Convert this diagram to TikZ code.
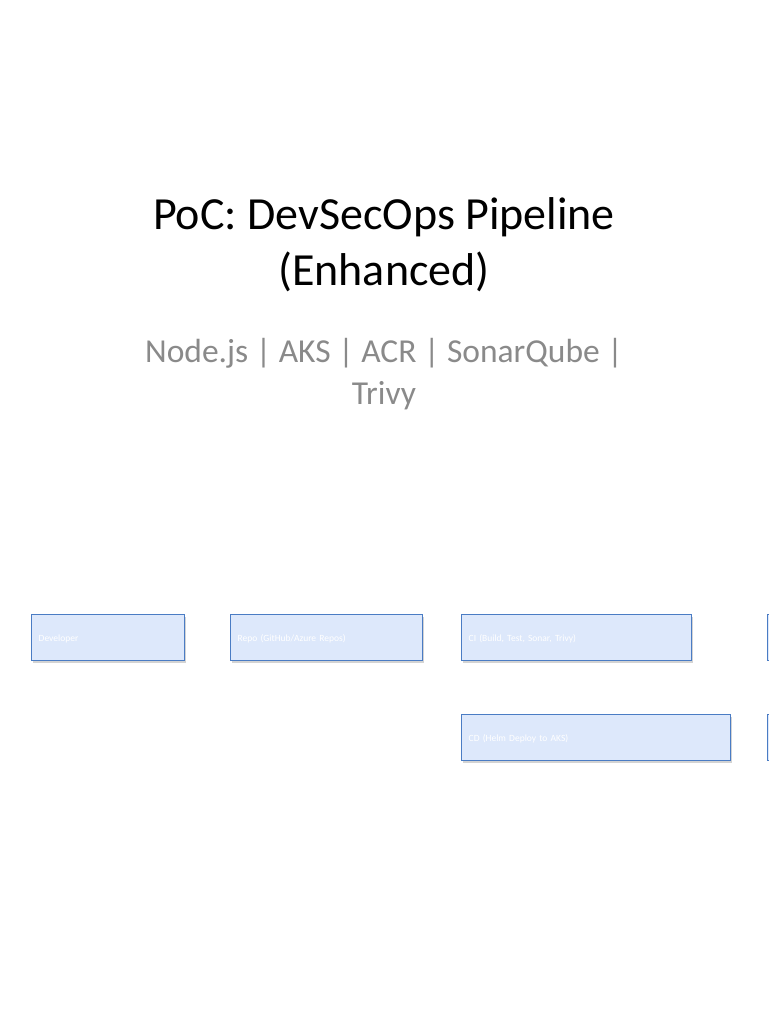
\documentclass[tikz,border=0pt]{standalone}
\usepackage{fontspec}
\setmainfont{Carlito}
\usetikzlibrary{positioning,shadows}
\definecolor{boxfill}{HTML}{DDE8FB}
\definecolor{boxline}{HTML}{4A7CC4}
\definecolor{subgray}{HTML}{8A8A8A}
\tikzset{
  stagebox/.style={draw=boxline, line width=1.4pt, fill=boxfill, anchor=north west,
    minimum height=46pt, text=white, font=\fontsize{9.5}{10}\selectfont,
    align=left, inner xsep=7pt, text depth=0pt,
    drop shadow={shadow xshift=0.8pt, shadow yshift=-1.8pt, opacity=0.35}}
}
\begin{document}
\begin{tikzpicture}[x=1pt,y=-1pt]
  \useasboundingbox (0,0) rectangle (768,1024);
  % title
  \node (title) at (384,245) [align=center, font=\fontsize{46}{56}\selectfont] {PoC: DevSecOps Pipeline\\(Enhanced)};
  \node (subtitle) at (384,374) [align=center, text=subgray, font=\fontsize{33.5}{42}\selectfont] {Node.js | AKS | ACR | SonarQube |\\Trivy};

  % pipeline stages
  \node (dev) at (31,614) [stagebox, minimum width=153pt, text width=139pt] {Developer};
  \node (repo) at (230,614) [stagebox, minimum width=192pt, text width=178pt] {Repo (GitHub/Azure Repos)};
  \node (ci) at (461,614) [stagebox, minimum width=230pt, text width=216pt] {CI (Build, Test, Sonar, Trivy)};
  \node (cd) at (461,714) [stagebox, minimum width=269pt, text width=255pt] {CD (Helm Deploy to AKS)};
  % stages beyond the right edge
  \node (acr) at (767,614) [stagebox, minimum width=150pt, text width=136pt] {};
  \node (aks) at (767,714) [stagebox, minimum width=150pt, text width=136pt] {};
\end{tikzpicture}
\end{document}
